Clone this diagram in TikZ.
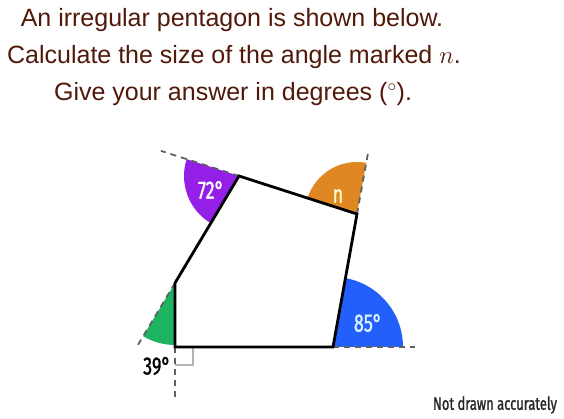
\documentclass[tikz,border=0pt]{standalone}
\usepackage{fontspec}
\setmainfont{Liberation Sans}
\newfontfamily\condfont[FakeStretch=0.72, FakeBold=1.2]{Fira Sans}
\usetikzlibrary{calc}
\definecolor{titlebrown}{RGB}{80,25,10}
\definecolor{sectpurple}{RGB}{148,32,232}
\definecolor{sectorange}{RGB}{222,135,35}
\definecolor{sectblue}{RGB}{35,95,250}
\definecolor{sectgreen}{RGB}{30,180,95}
\begin{document}
\begin{tikzpicture}[x=1pt,y=1pt,
        side/.style={line width=2.8pt, line join=miter},
        ext/.style={gray!75!black, line width=1.8pt, dash pattern=on 6pt off 5pt},
        rightmark/.style={gray!60, line width=2pt},
        title/.style={anchor=base, text=titlebrown, font=\fontsize{25}{30}\selectfont},
        anglabel/.style={font=\condfont\fontsize{25}{25}\selectfont}]
        \useasboundingbox (0,0) rectangle (564,419);
        \node[title] (line1) at (232,392) {An irregular pentagon is shown below.};
        \node[title] (line2) at (234,355) {Calculate the size of the angle marked $n$.};
        \node[title] (line3) at (233,318) {Give your answer in degrees ($^\circ$).};

        \coordinate (A) at (175,72);
        \coordinate (B) at (333,72);
        \coordinate (C) at (357,205);
        \coordinate (D) at (239,243);
        \coordinate (E) at (175,136);
        \coordinate (Bext) at ($(B)!-82pt!(A)$);
        \coordinate (Cext) at ($(C)!-66pt!(B)$);
        \coordinate (Dext) at ($(D)!-82pt!(C)$);
        \coordinate (Eext) at ($(E)!-72pt!(D)$);
        \coordinate (Aext) at ($(A)!-53pt!(E)$);

        \fill[sectblue] (B) -- ++(0:70) arc[start angle=0, end angle=79.8, radius=70] -- cycle;
        \fill[sectorange] (C) -- ++(79.8:52) arc[start angle=79.8, end angle=162.15, radius=52] -- cycle;
        \fill[sectpurple] (D) -- ++(162.15:55) arc[start angle=162.15, end angle=239.1, radius=55] -- cycle;
        \fill[sectgreen] (E) -- ++(239.1:62) arc[start angle=239.1, end angle=270, radius=62] -- cycle;

        \foreach \p in {A,B,C,D,E}{
            \draw[ext] (\p) -- (\p ext);
        }
        \draw[rightmark] (175,54) -- (193,54) -- (193,72);
        \filldraw[side, fill=white] (A) -- (B) -- (C) -- (D) -- (E) -- cycle;

        \node[anglabel, text=white] (lab72) at (211,229) {72°};
        \node[anglabel, text=yellow!25] (labn) at (338,223) {n};
        \node[anglabel, text=cyan!15] (lab85) at (368,96) {85°};
        \node[anglabel] (lab39) at (157,53) {39°};
        \node[font=\condfont\fontsize{18}{18}\selectfont, text=black!85] (note) at (495,14) {Not drawn accurately};
\end{tikzpicture}
\end{document}
